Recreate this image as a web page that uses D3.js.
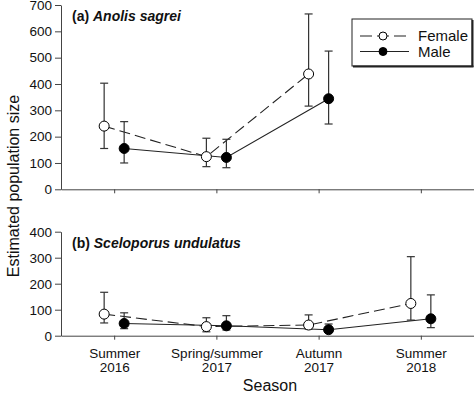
<!DOCTYPE html>
<html><head><meta charset="utf-8">
<script src="https://cdn.jsdelivr.net/npm/d3@7"></script>
<style>
body{margin:0;background:#fff}
svg{display:block}
text{font-family:"Liberation Sans",Arial,Helvetica,sans-serif;fill:#111}
</style>
</head><body><svg id="c" width="474" height="395"></svg>
<script>
// ---- data ----
const seasons = ["Summer 2016", "Spring/summer 2017", "Autumn 2017", "Summer 2018"];
const seasonLines = [["Summer","2016"],["Spring/summer","2017"],["Autumn","2017"],["Summer","2018"]];

// (a) Anolis sagrei
const anolisFemale     = [240, 124, 438, null];
const anolisFemaleLow  = [155,  86, 316, null];
const anolisFemaleHigh = [403, 194, 666, null];
const anolisMale       = [155, 121, 344, null];
const anolisMaleLow    = [100,  82, 248, null];
const anolisMaleHigh   = [257, 190, 525, null];
const anolisTicks = [0,100,200,300,400,500,600,700];

// (b) Sceloporus undulatus
const scelFemale     = [83, 35, 41, 124];
const scelFemaleLow  = [49, 15, 26, 60];
const scelFemaleHigh = [167, 69, 80, 304];
const scelMale       = [47, 38, 23, 65];
const scelMaleLow    = [27, 22, 14, 31];
const scelMaleHigh   = [88, 77, 45, 157];
const scelTicks = [0,100,200,300,400];

const legendLabels = ["Female","Male"];

// ---- layout ----
const svg = d3.select("#c");
const axisX0 = 61, axisX1 = 474;
const x = d3.scalePoint().domain(seasons).range([axisX0, axisX1]).padding(0.52);
const off = {female:-10, male:10};
const ink = "#222";

function panel(cfg){
  const y = d3.scaleLinear().domain([0, cfg.max]).range([cfg.y0, cfg.y1]);
  const g = svg.append("g");
  // y axis
  const ya = g.append("g").attr("transform",`translate(${axisX0},0)`)
    .call(d3.axisLeft(y).tickValues(cfg.ticks).tickSize(6).tickSizeOuter(0).tickPadding(3));
  ya.selectAll("text").style("font-size","13.5px").attr("fill","#111");
  ya.selectAll("line,path").attr("stroke","#444");
  // x axis
  const xa = g.append("g").attr("transform",`translate(0,${cfg.y0})`)
    .call(d3.axisBottom(x).tickSize(4).tickSizeOuter(0).tickFormat(""));
  xa.selectAll("line,path").attr("stroke","#444");
  if(cfg.labels){
    xa.selectAll(".tick text").remove();
    xa.selectAll(".tick").append("text")
      .attr("text-anchor","middle").style("font-size","13.5px").attr("fill","#111")
      .each(function(d,i){
        const t=d3.select(this);
        seasonLines[i].forEach((s,j)=>t.append("tspan").attr("x",0).attr("y",22+j*14).text(s));
      });
  }
  // title
  const tt = g.append("text").attr("x",72).attr("y",cfg.y1+16)
    .style("font-size","14px").style("font-weight","bold");
  tt.append("tspan").text(cfg.tag+" ");
  tt.append("tspan").style("font-style","italic").text(cfg.species);

  const series = [
    {key:"female", v:cfg.f, lo:cfg.fl, hi:cfg.fh, dash:"11,5", fill:"#fff"},
    {key:"male", v:cfg.m, lo:cfg.ml, hi:cfg.mh, dash:null, fill:"#000"}
  ];
  series.forEach(s=>{
    const pts = seasons.map((c,i)=>({c, v:s.v[i], lo:s.lo[i], hi:s.hi[i]})).filter(d=>d.v!=null);
    const px = d=>x(d.c)+off[s.key];
    // error bars
    const eb = g.append("g").attr("stroke","#333").attr("stroke-width",1.2);
    pts.forEach(d=>{
      eb.append("line").attr("x1",px(d)).attr("x2",px(d)).attr("y1",y(d.lo)).attr("y2",y(d.hi));
      eb.append("line").attr("x1",px(d)-4).attr("x2",px(d)+4).attr("y1",y(d.hi)).attr("y2",y(d.hi));
      eb.append("line").attr("x1",px(d)-4).attr("x2",px(d)+4).attr("y1",y(d.lo)).attr("y2",y(d.lo));
    });
    g.append("path").datum(pts)
      .attr("d", d3.line().x(px).y(d=>y(d.v)))
      .attr("fill","none").attr("stroke",ink).attr("stroke-width",1.1)
      .attr("stroke-dasharray", s.dash);
    s.pts=pts; s.px=px;
  });
  series.forEach(s=>{
    g.selectAll(null).data(s.pts).join("circle")
      .attr("cx",s.px).attr("cy",d=>y(d.v)).attr("r",5)
      .attr("fill",s.fill).attr("stroke","#000").attr("stroke-width",1);
  });
}

panel({y0:189.3, y1:5, max:700, ticks:anolisTicks, labels:false, tag:"(a)", species:"Anolis sagrei",
  f:anolisFemale, fl:anolisFemaleLow, fh:anolisFemaleHigh, m:anolisMale, ml:anolisMaleLow, mh:anolisMaleHigh});
panel({y0:335.7, y1:231.7, max:400, ticks:scelTicks, labels:true, tag:"(b)", species:"Sceloporus undulatus",
  f:scelFemale, fl:scelFemaleLow, fh:scelFemaleHigh, m:scelMale, ml:scelMaleLow, mh:scelMaleHigh});

// axis titles
svg.append("text").attr("transform","translate(13,186) rotate(-90)")
  .attr("text-anchor","middle").attr("dy","0.35em").style("font-size","16px").text("Estimated population size");
svg.append("text").attr("x",270).attr("y",391).attr("text-anchor","middle")
  .style("font-size","16px").text("Season");

// legend
const lg = svg.append("g");
lg.append("rect").attr("x",352).attr("y",19).attr("width",120).attr("height",47)
  .attr("fill","#fff").attr("stroke","#222").attr("stroke-width",1);
lg.append("line").attr("x1",472.5).attr("x2",472.5).attr("y1",20).attr("y2",67).attr("stroke","#222").attr("stroke-width",2);
lg.append("line").attr("x1",353).attr("x2",473.5).attr("y1",66.5).attr("y2",66.5).attr("stroke","#222").attr("stroke-width",2);
legendLabels.forEach((lab,i)=>{
  const yy = 36 + i*15.5;
  lg.append("line").attr("x1",360).attr("x2",409).attr("y1",yy).attr("y2",yy)
    .attr("stroke",ink).attr("stroke-width",1.1).attr("stroke-dasharray", i===0?"12,5":null);
  lg.append("circle").attr("cx",383).attr("cy",yy).attr("r",4)
    .attr("fill", i===0?"#fff":"#000").attr("stroke","#000");
  lg.append("text").attr("x",418).attr("y",yy).attr("dy","0.35em").style("font-size","15px").text(lab);
});
</script>
</body></html>
